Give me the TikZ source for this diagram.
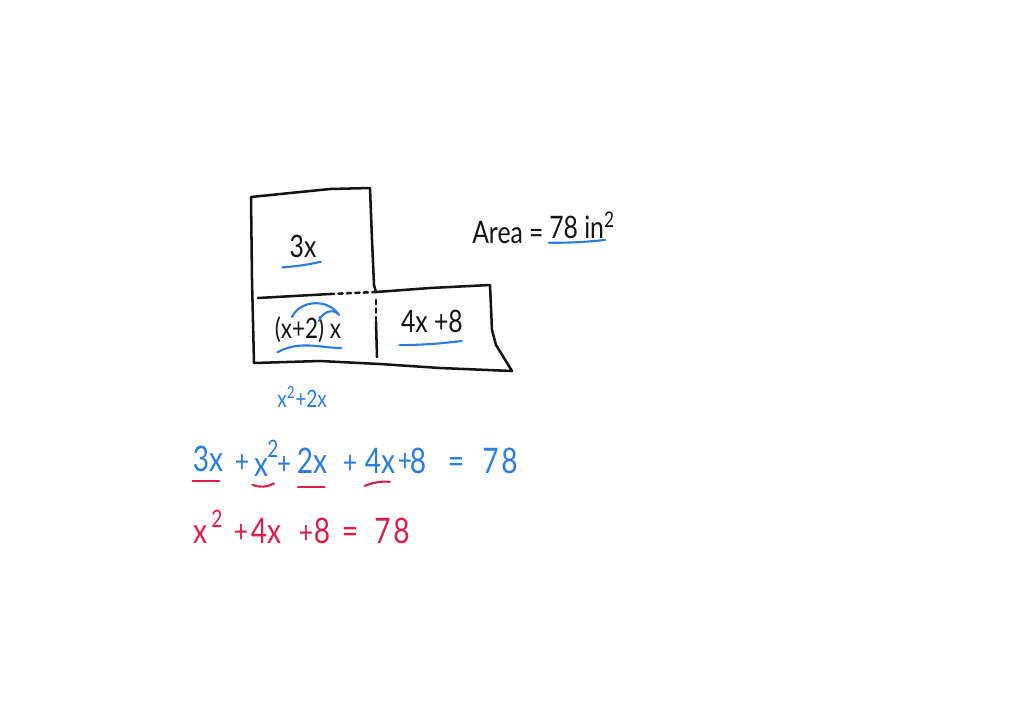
\documentclass[tikz,border=0pt]{standalone}
\usepackage{fontspec}
\setmainfont{Lato}[FakeStretch=0.8]
\usetikzlibrary{positioning}
\definecolor{penblue}{RGB}{43,125,224}
\definecolor{penred}{RGB}{222,30,72}
\definecolor{penblack}{RGB}{20,20,20}
\begin{document}
\begin{tikzpicture}[x=0.025cm,y=-0.025cm,
    pen/.style={draw=penblack,line width=1.8pt,line cap=round,line join=round},
    uline/.style={line width=1.5pt,line cap=round},
    ink/.style={inner sep=0pt,anchor=base,font=\fontsize{22}{26}\selectfont},
    big/.style={inner sep=0pt,anchor=base,font=\fontsize{25}{29}\selectfont},
    plus/.style={big,font=\fontsize{22}{26}\selectfont},
    sup/.style={big,font=\fontsize{17}{20}\selectfont}]
  \useasboundingbox[fill=white] (0,0) rectangle (1024,712);
  % the L-shaped figure
  \draw[pen] (251,197) -- (300,192) -- (330,189) -- (370,188) -- (372,240)
    -- (374,285) -- (376,292) -- (430,288) -- (490,285) -- (492,330)
    -- (496,345) -- (512,371) -- (440,368) -- (380,364) -- (320,361)
    -- (254,363) -- (252,280) -- cycle;
  \draw[pen] (258,298) -- (330,294);
  \draw[pen,dashed] (330,294) -- (376,292);
  \draw[pen,dashed] (376,300) -- (376,322);
  \draw[pen] (376,322) -- (377,357);
  % labels in the figure
  \begin{scope}[every node/.style={ink,text=penblack}]
    \node (tall) at (303,257) {3x};
    \node[font=\fontsize{20}{24}\selectfont] (corner) at (308,338) {(x+2) x};
    \node (wide) at (432,332) {4x +8};
    \node[anchor=base west] (area) at (472,243) {Area =};
    \node[anchor=base west] (value) at (549,238) {78 in\textsuperscript{2}};
  \end{scope}
  \node[ink,anchor=base west,text=penblue,font=\fontsize{17}{20}\selectfont] (expand) at (277,407) {x\textsuperscript{2}+2x};
  \begin{scope}[every path/.style={uline,penblue}]
    \draw ([xshift=-5pt,yshift=-7pt]tall.south west) to[bend right=4] ([xshift=3pt,yshift=-3pt]tall.south east);
    \draw ([xshift=2pt,yshift=-7pt]corner.south west) .. controls (300,340) and (320,348) .. ([xshift=0pt,yshift=-4pt]corner.south east);
    \draw ([xshift=-1pt,yshift=-9pt]wide.south west) to[bend right=3] ([xshift=-1pt,yshift=-6pt]wide.south east);
    \draw ([xshift=0pt,yshift=-3pt]value.south west) to[bend right=3] ([xshift=-7pt,yshift=-1pt]value.south east);
    \draw (292,317) .. controls (300,300) and (328,298) .. (339,315);
    \draw (319,321) .. controls (322,312) and (332,309) .. (337,313);
  \end{scope}
  % first equation
  \begin{scope}[every node/.style={big,text=penblue}]
    \node (e1) at (208,471) {3x};
    \node[plus] (e2) at (242,472) {+};
    \node (e3) at (261,476) {x};
    \node[sup] (e3s) at (273,457) {2};
    \node[plus] (e4) at (284,474) {+};
    \node (e5) at (312,473) {2x};
    \node[plus] (e6) at (350,473) {+};
    \node (e7) at (380,473) {4x};
    \node[plus] (e8) at (405,471) {+};
    \node (e9) at (418,473) {8};
    \node (e10) at (456,473) {=};
    \node (e11) at (500,473) {7\kern2pt8};
  \end{scope}
  \begin{scope}[every path/.style={uline,penred}]
    \draw ([yshift=-7pt]e1.south west) -- ([xshift=-3pt,yshift=-7pt]e1.south east);
    \draw ([xshift=-1pt,yshift=-6pt]e3.south west) to[bend right=25] ([xshift=4pt,yshift=-5pt]e3.south east);
    \draw ([xshift=1pt,yshift=-10pt]e5.south west) -- ([xshift=-2pt,yshift=-10pt]e5.south east);
    \draw ([yshift=-9pt]e7.south west) to[bend left=12] ([xshift=-4pt,yshift=-6pt]e7.south east);
  \end{scope}
  % second equation
  \begin{scope}[every node/.style={big,text=penred}]
    \node (f1) at (200,543) {x};
    \node[sup] (f1s) at (217,527) {2};
    \node[plus] (f2) at (241,542) {+};
    \node (f3) at (266,543) {4x};
    \node[plus] (f4) at (306,543) {+};
    \node (f5) at (322,543) {8};
    \node (f6) at (350,543) {=};
    \node (f7) at (392,543) {7\kern2pt8};
  \end{scope}
\end{tikzpicture}
\end{document}
